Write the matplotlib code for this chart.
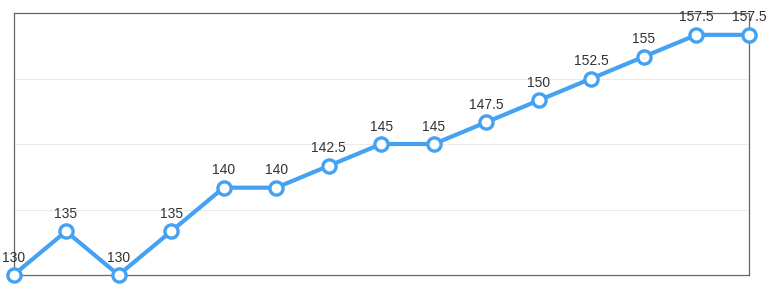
import matplotlib
matplotlib.use("Agg")
import matplotlib.pyplot as plt

categories = list(range(15))
values = [130, 135, 130, 135, 140, 140, 142.5, 145, 145, 147.5, 150, 152.5, 155, 157.5, 157.5]
labels = ["130", "135", "130", "135", "140", "140", "142.5", "145", "145", "147.5", "150", "152.5", "155", "157.5", "157.5"]
y_ticks = [130, 137.5, 145, 152.5, 160]

plt.rcParams['font.family'] = ['Liberation Sans', 'DejaVu Sans']

fig = plt.figure(figsize=(7.68, 2.91), dpi=100)
ax = fig.add_axes([13.5/768, 16/291, (749-13.5)/768, (275-13)/291])
ax.set_xlim(categories[0], categories[-1])
ax.set_ylim(y_ticks[0], y_ticks[-1])
ax.set_yticks(y_ticks)
ax.set_xticks([])
ax.tick_params(axis='y', length=0, labelleft=False)
ax.grid(axis='y', color='#ebebeb', linewidth=0.8)
ax.set_axisbelow(True)
for s in ax.spines.values():
    s.set_color('#666666')
    s.set_linewidth(0.9)

ax.plot(categories, values, color='#45a1f2', linewidth=3, marker='o',
        markersize=9.5, markerfacecolor='white', markeredgecolor='#45a1f2',
        markeredgewidth=2.4, clip_on=False, zorder=3)
for x, v, t in zip(categories, values, labels):
    ax.annotate(t, (x, v), xytext=(0, 7.5), textcoords='offset points',
                ha='center', va='bottom', fontsize=10, color='#333333',
                annotation_clip=False, zorder=4)

fig.savefig('out.png', dpi=100)
